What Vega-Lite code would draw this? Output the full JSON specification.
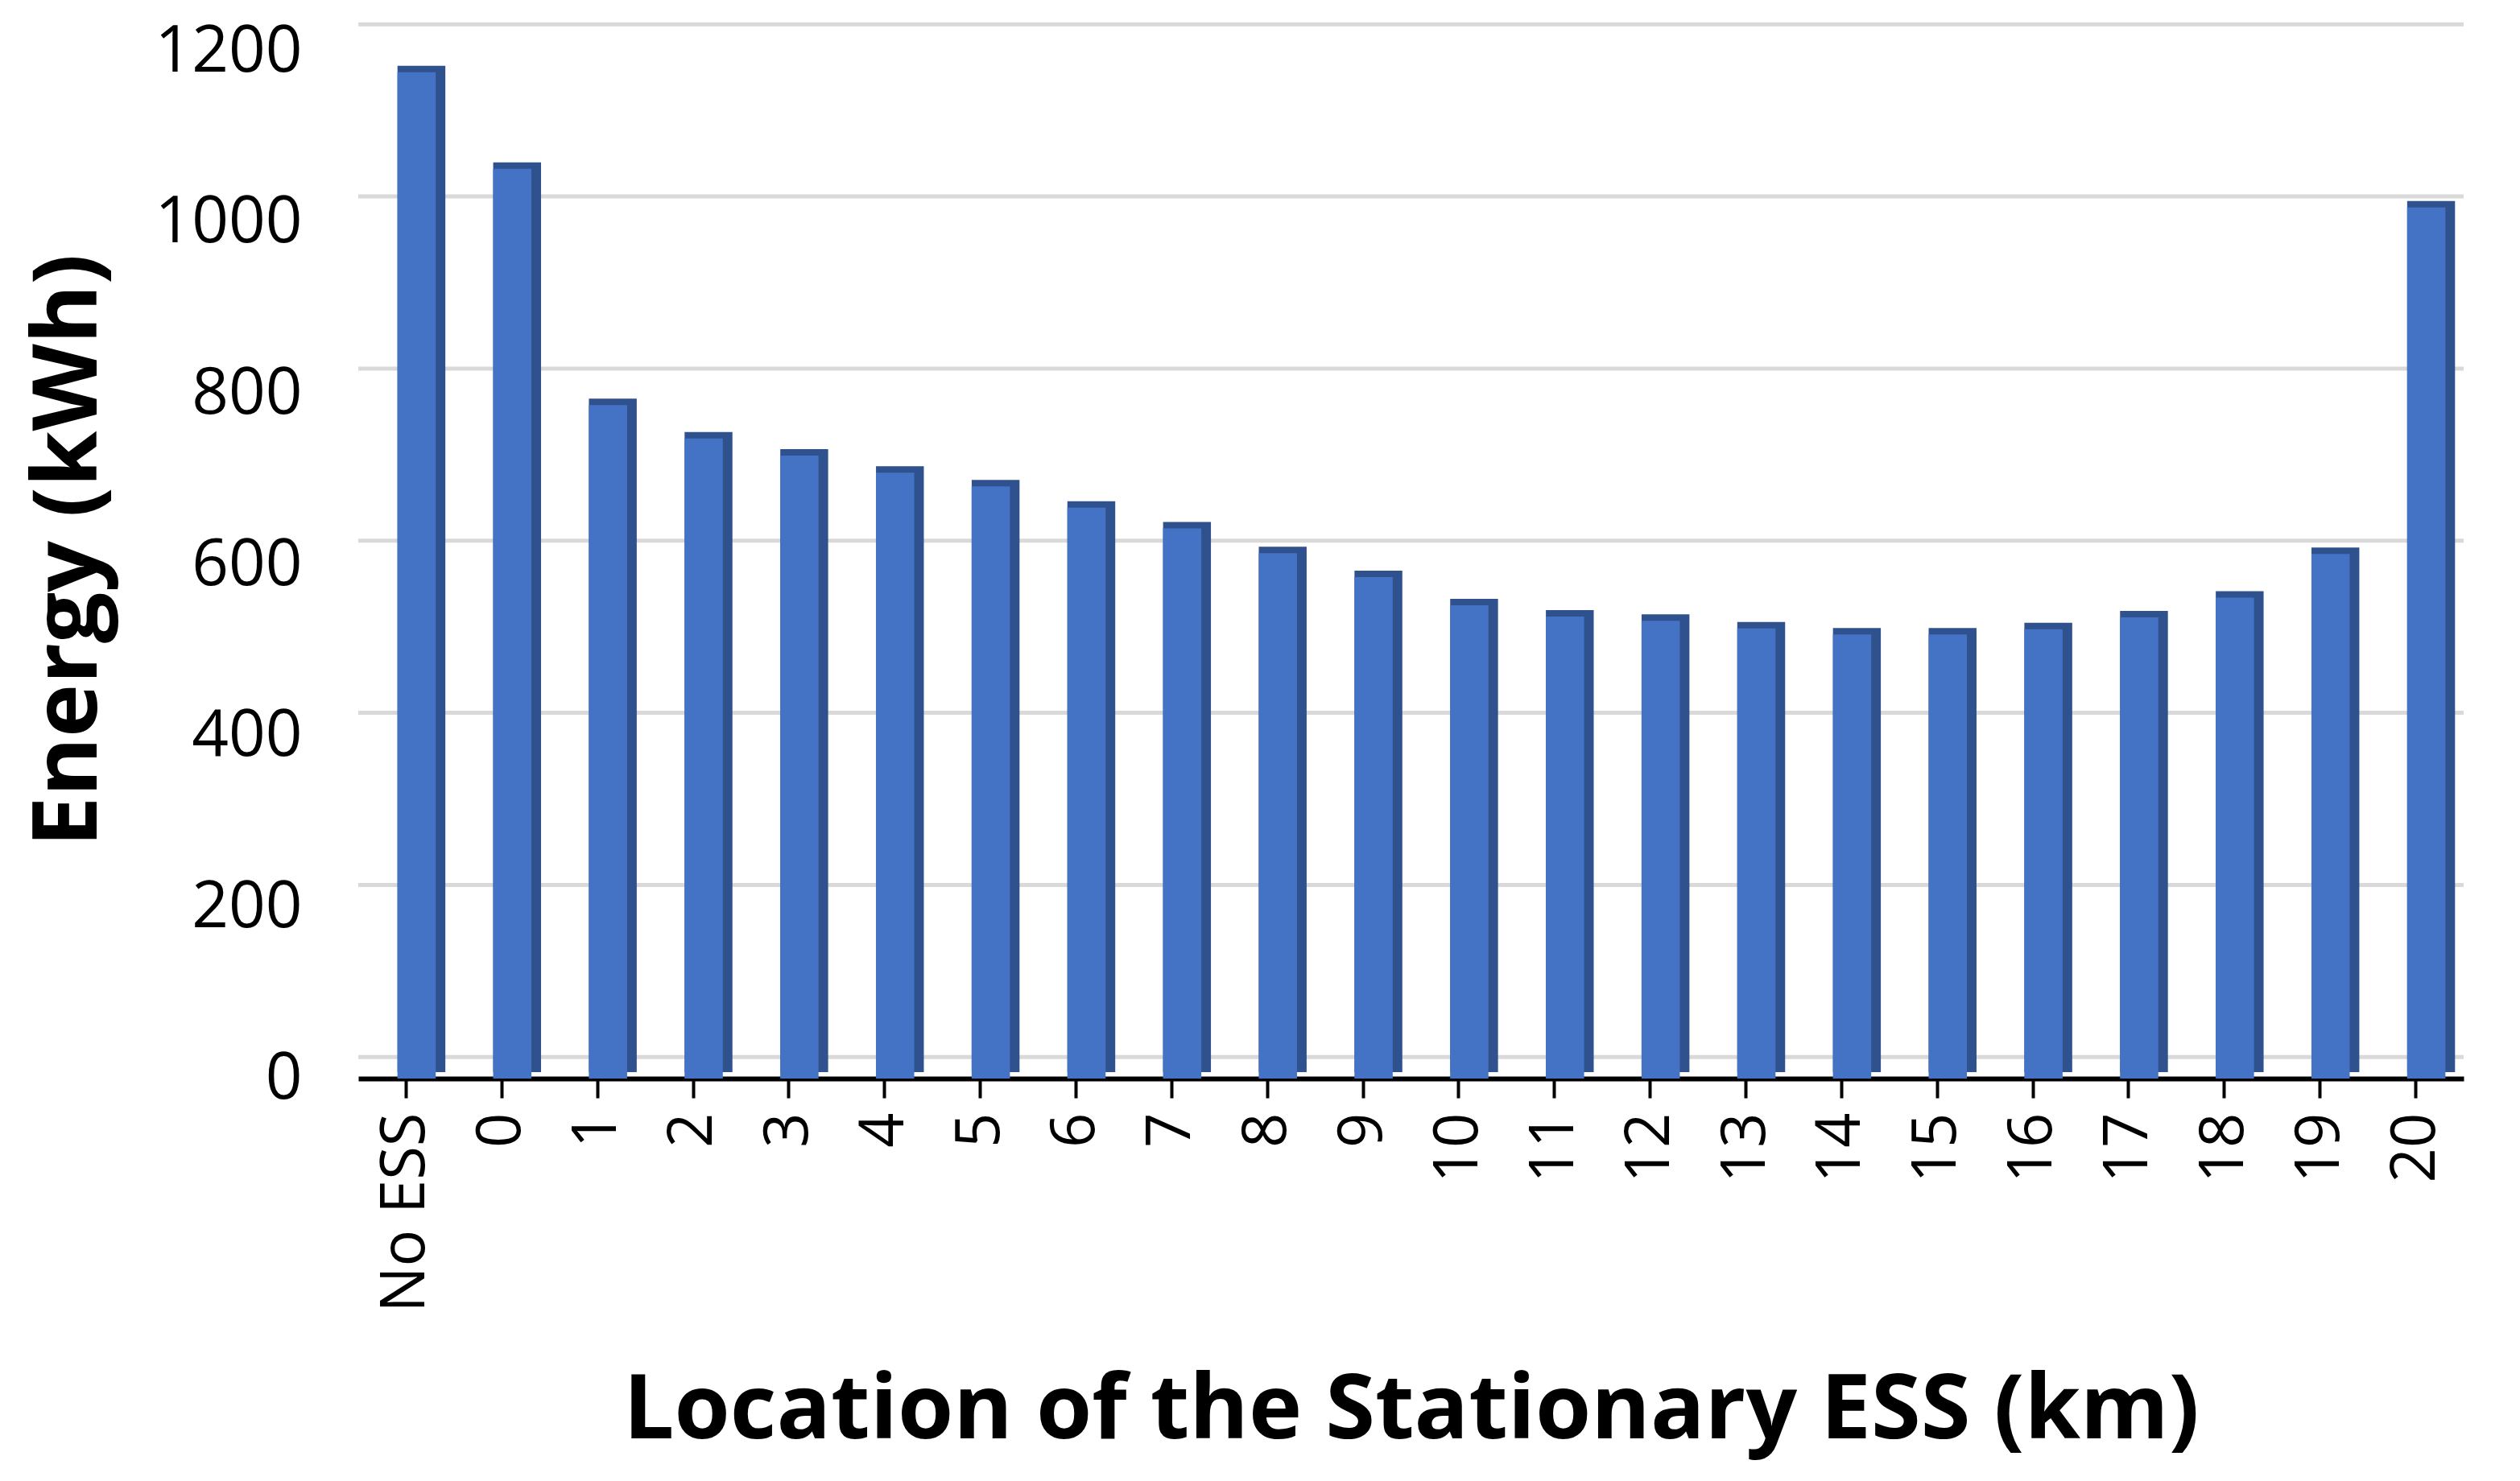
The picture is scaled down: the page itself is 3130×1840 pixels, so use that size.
{
  "$schema": "https://vega.github.io/schema/vega-lite/v6.json",
  "autosize": "none",
  "padding": {"left": 445, "top": 27, "right": 70, "bottom": 500},
  "width": 2615,
  "height": 1313,
  "background": "white",
  "config": {"view": {"stroke": null}, "font": "Open Sans"},
  "datasets": {
    "energy": [
      {"loc": "No ESS", "kwh": 1176},
      {"loc": "0", "kwh": 1063},
      {"loc": "1", "kwh": 787},
      {"loc": "2", "kwh": 748},
      {"loc": "3", "kwh": 728},
      {"loc": "4", "kwh": 708},
      {"loc": "5", "kwh": 692},
      {"loc": "6", "kwh": 667},
      {"loc": "7", "kwh": 643},
      {"loc": "8", "kwh": 614},
      {"loc": "9", "kwh": 586},
      {"loc": "10", "kwh": 553},
      {"loc": "11", "kwh": 540},
      {"loc": "12", "kwh": 535},
      {"loc": "13", "kwh": 526},
      {"loc": "14", "kwh": 519},
      {"loc": "15", "kwh": 519},
      {"loc": "16", "kwh": 525},
      {"loc": "17", "kwh": 539},
      {"loc": "18", "kwh": 562},
      {"loc": "19", "kwh": 613},
      {"loc": "20", "kwh": 1018}
    ],
    "grid": [
      {"v": 0}, {"v": 200}, {"v": 400}, {"v": 600},
      {"v": 800}, {"v": 1000}, {"v": 1200}
    ]
  },
  "layer": [
    {
      "data": {"name": "grid"},
      "mark": {"type": "rule", "color": "#D9D9D9", "strokeWidth": 5},
      "encoding": {
        "y": {
          "field": "v",
          "type": "quantitative",
          "scale": {"domain": [-25, 1203], "nice": false, "zero": false},
          "axis": null
        }
      }
    },
    {
      "data": {"name": "energy"},
      "encoding": {
        "x": {
          "field": "loc",
          "type": "nominal",
          "sort": null,
          "scale": {"paddingInner": 0, "paddingOuter": 0},
          "axis": {
            "title": "Location of the Stationary ESS (km)",
            "titleFontSize": 112,
            "titleFontWeight": "bold",
            "titleColor": "black",
            "titlePadding": 158,
            "labelAngle": 270,
            "labelFontSize": 76,
            "labelColor": "black",
            "labelPadding": 18,
            "labelLimit": 1000,
            "domainColor": "black",
            "domainWidth": 6,
            "tickColor": "black",
            "tickWidth": 4,
            "tickSize": 24,
            "grid": false
          }
        },
        "y": {
          "field": "kwh",
          "type": "quantitative",
          "scale": {"domain": [0, 1235], "nice": false}
        }
      },
      "layer": [
        {
          "mark": {"type": "bar", "color": "#2F528F", "width": {"band": 0.5}, "xOffset": 19, "yOffset": -8},
          "encoding": {}
        },
        {
          "mark": {"type": "bar", "color": "#4472C4", "width": {"band": 0.4}, "xOffset": 13},
          "encoding": {
            "y": {
              "field": "kwh",
              "type": "quantitative",
              "scale": {"domain": [0, 1235], "nice": false},
              "axis": {
                "orient": "left",
                "values": [0, 200, 400, 600, 800, 1000, 1200],
                "format": "d",
                "title": "Energy (kWh)",
                "titleFontSize": 112,
                "titleFontWeight": "bold",
                "titleColor": "black",
                "titlePadding": 102,
                "labelFontSize": 80,
                "labelColor": "black",
                "labelPadding": 70,
                "labelLimit": 1000,
                "domain": false,
                "ticks": false,
                "grid": false
              }
            }
          }
        }
      ]
    }
  ],
  "resolve": {"scale": {"y": "independent"}}
}
